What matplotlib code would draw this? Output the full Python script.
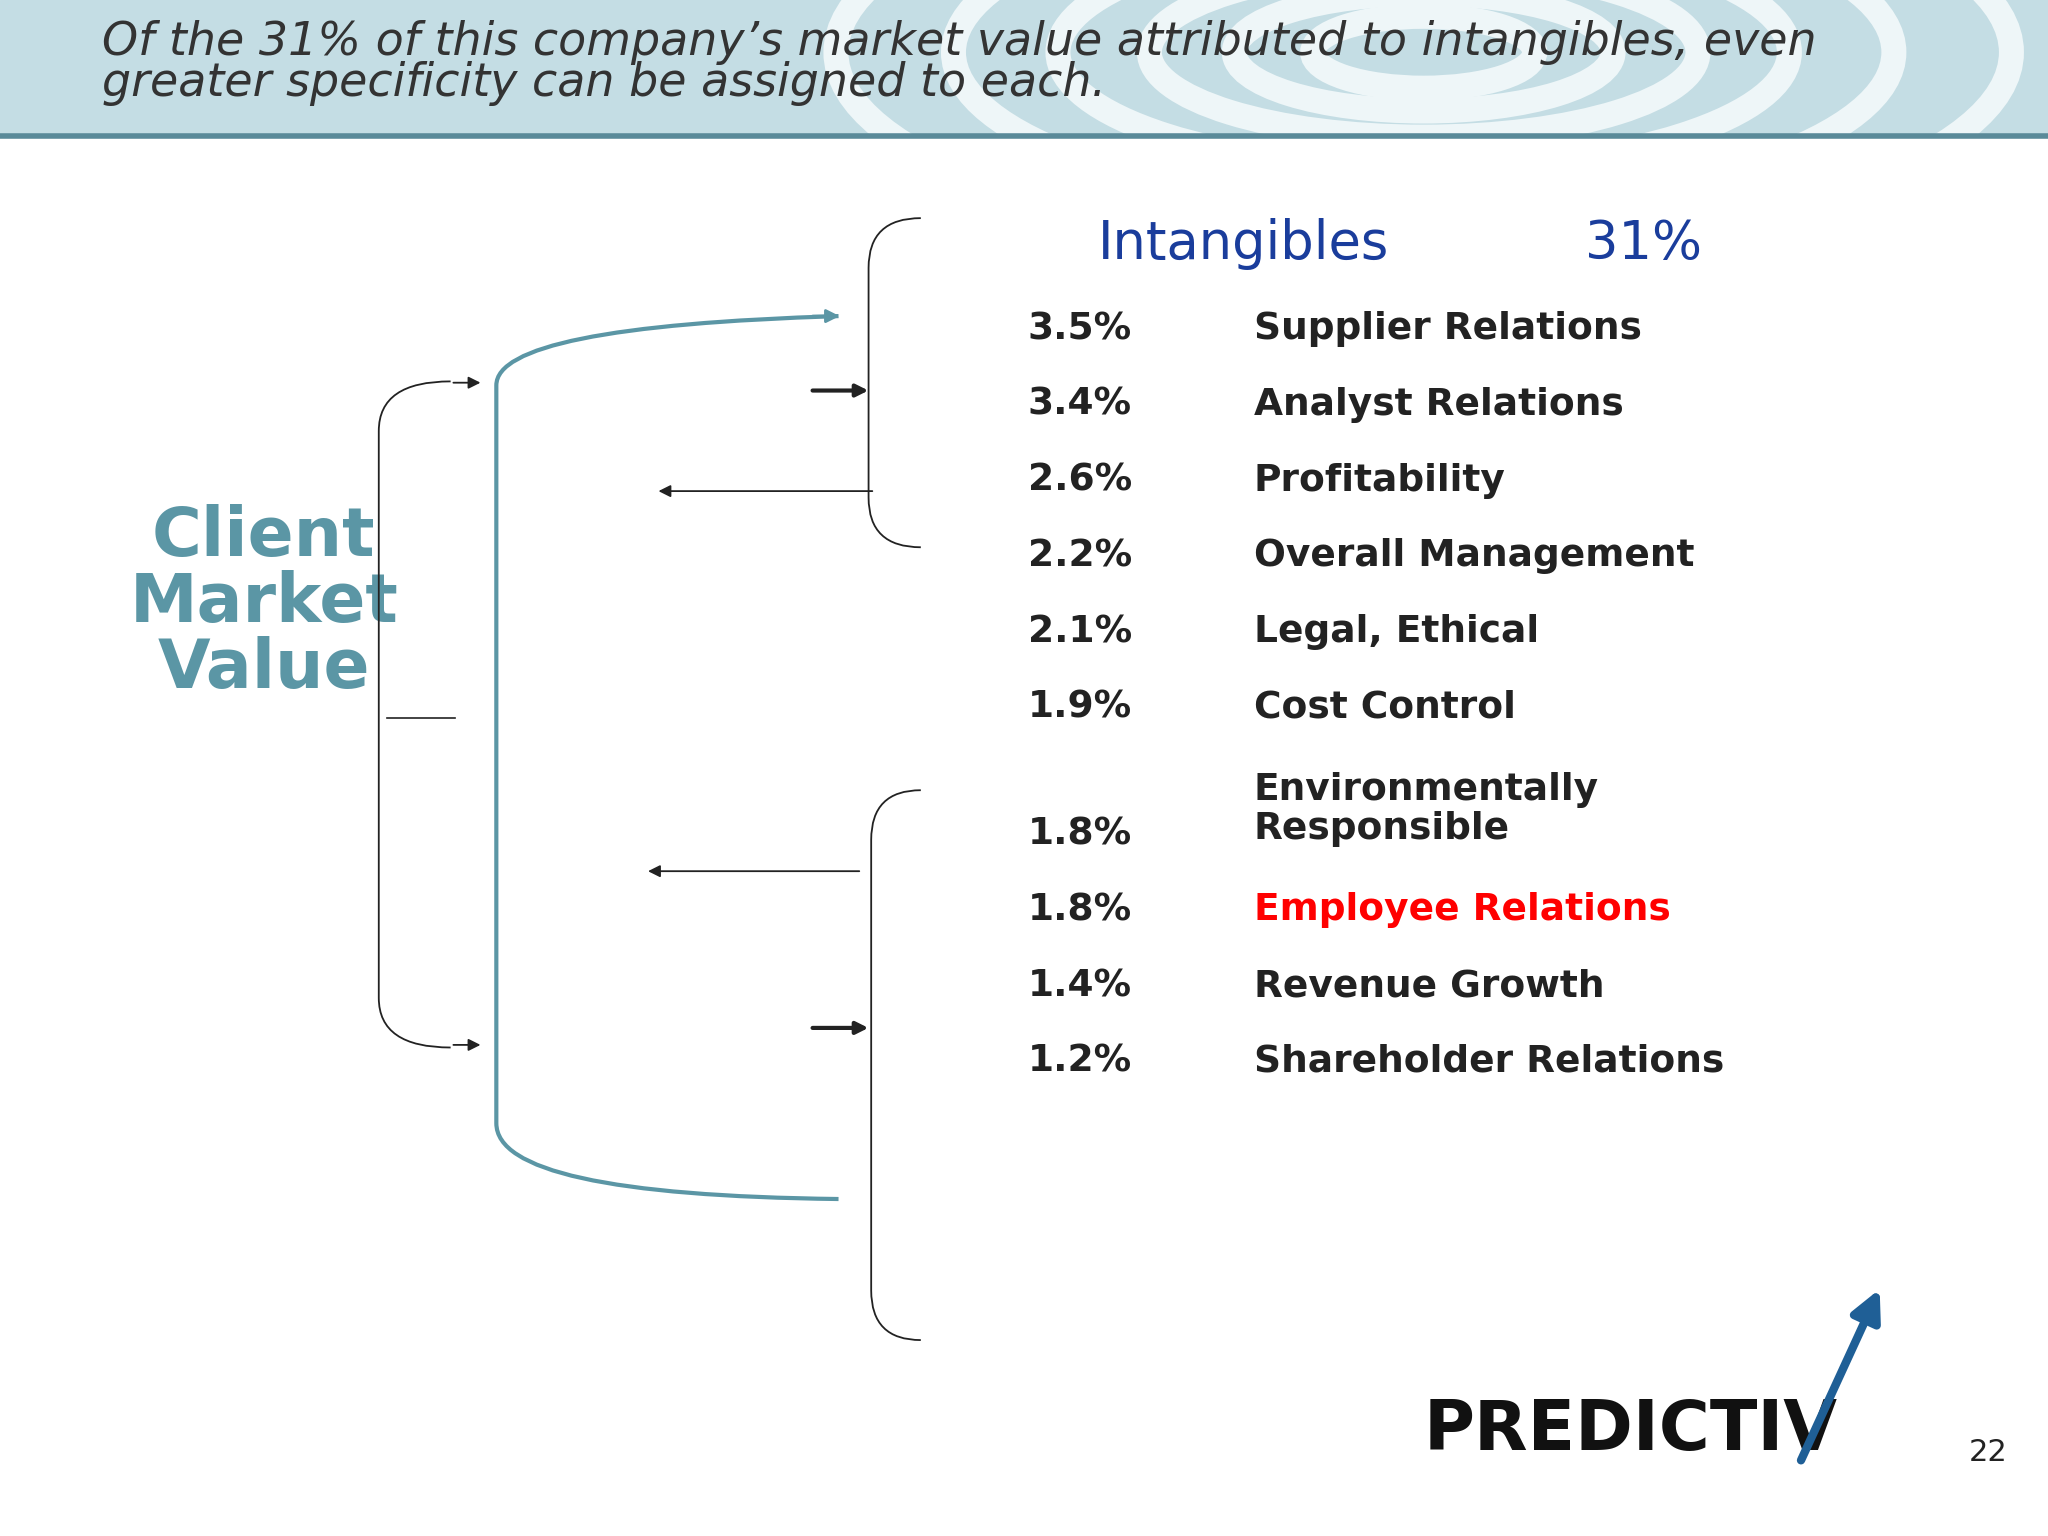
import matplotlib
matplotlib.use("Agg")
import matplotlib.pyplot as plt
from matplotlib.patches import Ellipse, Rectangle
from matplotlib.path import Path
from matplotlib.patches import PathPatch

percents = ["3.5%", "3.4%", "2.6%", "2.2%", "2.1%", "1.9%", "1.8%", "1.8%", "1.4%", "1.2%"]
labels = ["Supplier Relations", "Analyst Relations", "Profitability", "Overall Management",
          "Legal, Ethical", "Cost Control", "Environmentally\nResponsible", "Employee Relations",
          "Revenue Growth", "Shareholder Relations"]
label_colors = ["#222222"] * 7 + ["#ff0000"] + ["#222222"] * 2
row_y = [252, 310, 368, 426, 484, 542, 639, 697, 755, 813]

W, H = 1568, 1176
fig = plt.figure(figsize=(20.48, 15.36), dpi=100)
ax = fig.add_axes([0, 0, 1, 1])
ax.set_xlim(0, W); ax.set_ylim(H, 0); ax.axis("off")

ax.add_patch(Rectangle((0, 0), W, 102, color="#c4dde4", zorder=0))
for i, (w, h) in enumerate([(900, 300), (720, 240), (560, 180), (420, 130), (290, 90), (170, 55)]):
    ax.add_patch(Ellipse((1090, 40), w, h, fill=False, ec="#eef6f8", lw=18, zorder=1))
ax.plot([0, W], [104, 104], color="#5a8a99", lw=4, zorder=2)
ax.add_patch(Rectangle((0, 106), W, H, color="white", zorder=1.5))
ax.text(78, 48, "Of the 31% of this company’s market value attributed to intangibles, even\ngreater specificity can be assigned to each.",
        fontsize=33, style="italic", color="#333333", va="center", linespacing=0.88, zorder=3)

teal = "#5b96a5"
ax.text(202, 462, "Client\nMarket\nValue", fontsize=49, fontweight="bold", color=teal,
        ha="center", va="center", linespacing=1.0, zorder=3)
ax.plot([296, 348], [550, 550], color="#222", lw=1.2, zorder=3)

def bracket(x0, y0, y1, xr, lw=1.3, color="#222"):
    r = 38
    verts = [(xr, y0), (x0, y0), (x0, y0 + r), (x0, y1 - r), (x0, y1), (xr, y1)]
    codes = [Path.MOVETO, Path.CURVE3, Path.CURVE3, Path.LINETO, Path.CURVE3, Path.CURVE3]
    ax.add_patch(PathPatch(Path(verts, codes), fill=False, ec=color, lw=lw, zorder=3))

bracket(290, 292, 802, 345)
bracket(665, 167, 419, 705)
bracket(667, 605, 1026, 705)
verts = [(642, 242), (380, 250), (380, 295), (380, 860), (380, 915), (642, 918)]
codes = [Path.MOVETO, Path.CURVE3, Path.CURVE3, Path.LINETO, Path.CURVE3, Path.CURVE3]
ax.add_patch(PathPatch(Path(verts, codes), fill=False, ec=teal, lw=3, zorder=3))
ax.annotate("", xy=(645, 242), xytext=(620, 242), arrowprops=dict(arrowstyle="-|>", color=teal, lw=2, mutation_scale=20), zorder=4)

def arrow(x0, x1, y, lw=1.3):
    ax.annotate("", xy=(x1, y), xytext=(x0, y),
                arrowprops=dict(arrowstyle="-|>", color="#222", lw=lw, mutation_scale=18), zorder=4)
arrow(345, 370, 293); arrow(345, 370, 800)
arrow(620, 667, 299, lw=3); arrow(620, 667, 787, lw=3)
arrow(670, 502, 376); arrow(660, 494, 667)

ax.text(952, 187, "Intangibles", fontsize=38, color="#1a3d9c", ha="center", va="center", zorder=3)
ax.text(1258, 187, "31%", fontsize=38, color="#1a3d9c", ha="center", va="center", zorder=3)
for p, l, c, y in zip(percents, labels, label_colors, row_y):
    ax.text(787, y, p, fontsize=27, fontweight="bold", color="#222", va="center", zorder=3)
    ty = y - 19 if "\n" in l else y
    ax.text(960, ty, l, fontsize=27, fontweight="bold", color=c, va="center", linespacing=1.1, zorder=3)

ax.text(1090, 1095, "PREDICTIV", fontsize=50, fontweight="bold", color="#111", va="center", zorder=3)
ax.annotate("", xy=(1440, 985), xytext=(1378, 1120),
            arrowprops=dict(arrowstyle="-|>", color="#1f5f96", lw=6, mutation_scale=45), zorder=4)
ax.text(1522, 1112, "22", fontsize=22, color="#222", ha="center", va="center", zorder=3)

fig.savefig("out.png", dpi=100)
